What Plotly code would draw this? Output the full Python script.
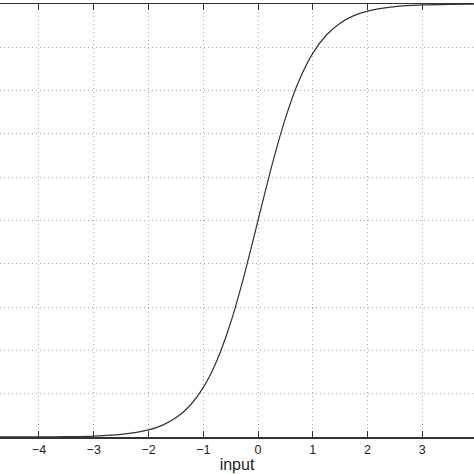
import plotly.graph_objects as go

# Values
x_vals = [-4.75, -4.5, -4.0, -3.5, -3.0, -2.5, -2.0, -1.75, -1.5, -1.25, -1.0, -0.75, -0.5, -0.25,
          0.0, 0.25, 0.5, 0.75, 1.0, 1.25, 1.5, 1.75, 2.0, 2.5, 3.0, 3.5, 4.0]
y_vals = [0.0001, 0.0001, 0.0003, 0.0008, 0.0021, 0.0059, 0.0163, 0.0269, 0.0442, 0.0716, 0.114,
          0.1769, 0.264, 0.3746, 0.5, 0.6254, 0.736, 0.8231, 0.886, 0.9284, 0.9558, 0.9731,
          0.9837, 0.9941, 0.9979, 0.9992, 0.9997]
x_ticks = [-4, -3, -2, -1, 0, 1, 2, 3]
x_label = "input"

fig = go.Figure()
fig.add_trace(go.Scatter(x=x_vals, y=y_vals, mode="lines",
                         line=dict(color="#333333", width=1.2, shape="spline", smoothing=0.6),
                         showlegend=False, hoverinfo="skip"))

fig.update_layout(
    width=474, height=474,
    margin=dict(l=0, r=0, t=4, b=37),
    paper_bgcolor="white", plot_bgcolor="white",
    font=dict(family="Liberation Sans, Arial, sans-serif", color="#222222"),
    xaxis=dict(
        range=[-4.712, 3.945], tickvals=x_ticks,
        ticks="inside", ticklen=6, tickcolor="#333333", tickwidth=1,
        showline=True, linecolor="#333333", linewidth=1.5, mirror="ticks",
        showgrid=True, gridcolor="#a8a8a8", griddash="1px,3px", gridwidth=1,
        zeroline=False, tickfont=dict(size=12.5),
        title=dict(text=x_label, font=dict(size=16), standoff=2),
    ),
    yaxis=dict(
        range=[0, 1], dtick=0.1, showticklabels=False, ticks="",
        showline=False, showgrid=True, gridcolor="#a8a8a8", griddash="1px,3px", gridwidth=1,
        zeroline=False,
    ),
)

fig.write_html("out.html", config={"displayModeBar": False, "staticPlot": True},
               post_script="document.body.style.margin='0px';document.body.style.overflow='hidden';")
